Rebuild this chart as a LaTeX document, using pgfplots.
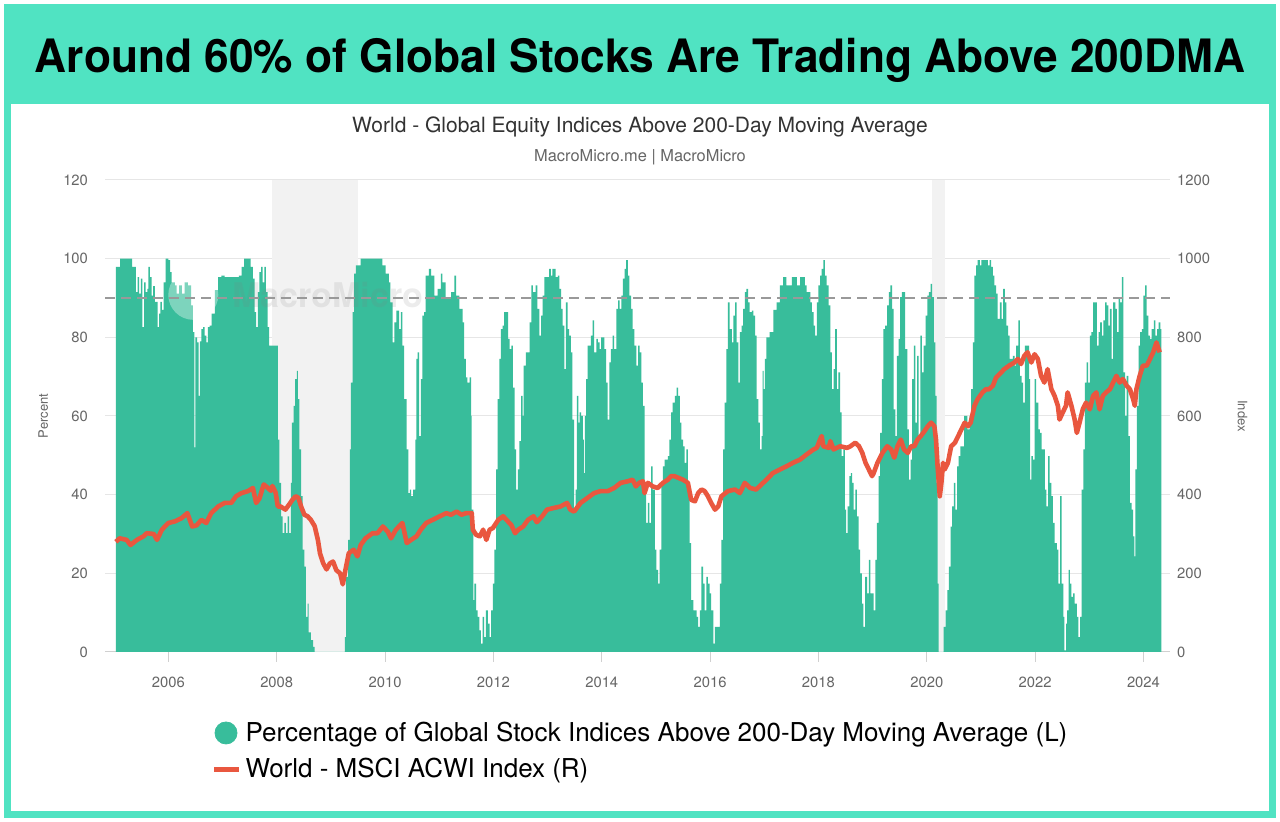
\documentclass[border=0pt]{standalone}
\usepackage{fontspec}
\setmainfont{TeX Gyre Heros}
\usepackage{graphicx}
\usepackage{pgfplots}
\usepackage{pgfplotstable}
\pgfplotsset{compat=1.18}

\definecolor{banner}{HTML}{50E3C2}
\definecolor{barteal}{HTML}{38BD9B}
\definecolor{acwired}{HTML}{E9573F}
\definecolor{recess}{HTML}{F2F2F2}
\definecolor{gridgray}{HTML}{E6E6E6}
\definecolor{axisgray}{HTML}{D0D0D0}
\definecolor{ticktext}{HTML}{666666}

% share of global indices above their 200DMA (%)
\pgfplotstableread{
year pct
2005.03 97.9
2005.11 100
2005.33 97.9
2005.40 91.5
2005.43 95.3
2005.46 91.1
2005.49 94.9
2005.52 82.6
2005.55 94.0
2005.58 91.5
2005.61 92.3
2005.63 97.9
2005.66 95.3
2005.69 90.6
2005.72 93.0
2005.75 89.0
2005.80 82.6
2005.83 86.0
2005.85 89.0
2005.88 87.0
2005.91 94.0
2005.95 100
2006.00 99.6
2006.03 96.6
2006.06 94.0
2006.12 93.2
2006.15 91.1
2006.20 93.2
2006.25 91.1
2006.30 94.0
2006.36 93.2
2006.42 88.1
2006.45 81.3
2006.48 52.0
2006.50 80.0
2006.53 78.7
2006.56 65.1
2006.58 79.0
2006.61 82.1
2006.64 82.6
2006.67 80.4
2006.70 78.7
2006.73 82.6
2006.76 83.0
2006.80 86.0
2006.86 92.0
2006.92 95.3
2006.98 95.7
2007.04 95.3
2007.10 95.3
2007.20 95.3
2007.30 95.7
2007.35 97.9
2007.40 100
2007.47 100
2007.52 97.9
2007.56 94.9
2007.59 86.4
2007.62 82.6
2007.65 91.5
2007.68 96.6
2007.71 97.9
2007.74 94.0
2007.77 97.9
2007.80 91.5
2007.83 82.6
2007.86 77.9
2007.95 77.9
2008.02 54.0
2008.05 43.0
2008.08 34.5
2008.11 30.2
2008.14 32.8
2008.17 30.2
2008.20 34.5
2008.23 30.2
2008.26 43.0
2008.28 58.3
2008.31 62.6
2008.34 69.4
2008.37 71.5
2008.39 64.3
2008.42 51.5
2008.45 39.6
2008.48 26.0
2008.51 21.7
2008.54 8.9
2008.57 12.3
2008.59 5.0
2008.63 3.0
2008.67 1.3
2008.70 0
2009.25 0
2009.26 3.8
2009.28 19.1
2009.32 28.5
2009.35 51.5
2009.37 68.5
2009.40 86.4
2009.43 96.2
2009.46 98.3
2009.55 100
2009.92 100
2009.95 98.3
2010.01 96.2
2010.07 94.0
2010.10 88.9
2010.14 78.7
2010.17 83.8
2010.21 86.8
2010.26 82.1
2010.29 86.4
2010.32 77.9
2010.35 64.3
2010.40 51.5
2010.43 40.4
2010.46 41.3
2010.48 39.6
2010.52 41.3
2010.56 54.0
2010.58 74.5
2010.60 76.2
2010.63 54.9
2010.66 69.4
2010.69 85.5
2010.72 86.4
2010.75 95.7
2010.81 97.4
2010.85 95.7
2010.91 90.6
2010.97 92.3
2011.03 96.2
2011.06 94.0
2011.12 89.8
2011.22 91.5
2011.28 95.7
2011.31 90.6
2011.37 87.2
2011.43 83.8
2011.46 74.5
2011.49 69.8
2011.52 68.5
2011.56 69.8
2011.59 60.0
2011.60 36.2
2011.63 13.2
2011.65 17.4
2011.68 10.6
2011.71 8.9
2011.74 5.5
2011.77 2.1
2011.80 8.9
2011.83 3.8
2011.86 10.6
2011.90 7.2
2011.93 3.8
2011.96 10.6
2011.99 17.4
2012.02 26.0
2012.05 46.4
2012.08 64.3
2012.11 74.5
2012.14 82.1
2012.17 83.0
2012.20 86.4
2012.25 86.4
2012.27 79.6
2012.30 77.0
2012.33 77.9
2012.36 67.2
2012.39 51.5
2012.42 41.3
2012.45 46.4
2012.48 53.6
2012.51 65.1
2012.54 60.0
2012.56 72.8
2012.60 76.2
2012.67 83.8
2012.70 93.2
2012.73 91.5
2012.78 93.2
2012.81 87.2
2012.85 80.4
2012.88 85.5
2012.91 90.6
2012.94 95.3
2013.03 97.4
2013.06 95.7
2013.09 97.4
2013.15 95.3
2013.19 95.7
2013.22 92.3
2013.25 87.2
2013.28 83.0
2013.31 71.9
2013.34 88.9
2013.37 82.1
2013.40 80.4
2013.43 76.2
2013.46 59.1
2013.49 36.2
2013.52 41.3
2013.54 65.1
2013.57 58.3
2013.59 60.9
2013.62 60.0
2013.65 54.0
2013.67 45.5
2013.69 60.0
2013.71 69.4
2013.74 77.9
2013.80 80.4
2013.83 84.3
2013.86 76.2
2013.90 79.6
2013.93 78.7
2013.96 77.0
2013.99 80.0
2014.05 77.0
2014.08 68.5
2014.11 59.1
2014.14 73.6
2014.17 77.0
2014.20 80.4
2014.23 77.0
2014.27 87.2
2014.30 89.4
2014.33 87.2
2014.36 90.6
2014.39 94.9
2014.42 97.4
2014.45 99.6
2014.48 95.7
2014.51 90.6
2014.54 87.2
2014.57 82.1
2014.60 77.9
2014.64 72.8
2014.67 77.9
2014.70 76.2
2014.73 68.5
2014.76 62.6
2014.79 43.0
2014.82 32.8
2014.85 37.9
2014.88 32.8
2014.91 47.2
2014.94 41.3
2014.98 26.0
2015.01 20.9
2015.04 17.4
2015.07 26.0
2015.10 43.0
2015.13 47.2
2015.16 48.9
2015.22 49.8
2015.25 54.0
2015.28 60.9
2015.31 63.4
2015.35 65.1
2015.38 67.2
2015.41 65.1
2015.44 58.3
2015.47 54.0
2015.50 52.3
2015.53 48.1
2015.56 51.5
2015.59 43.0
2015.62 27.7
2015.65 13.2
2015.69 10.6
2015.75 8.9
2015.78 6.4
2015.81 10.6
2015.84 21.7
2015.87 17.4
2015.90 10.6
2015.93 19.1
2015.96 17.4
2015.99 14.9
2016.02 10.6
2016.06 2.1
2016.09 6.4
2016.15 6.4
2016.18 17.4
2016.21 28.5
2016.24 51.5
2016.27 63.4
2016.30 77.0
2016.33 88.9
2016.36 82.1
2016.40 78.7
2016.43 85.5
2016.46 88.9
2016.49 78.7
2016.52 68.5
2016.55 81.3
2016.58 83.0
2016.61 87.2
2016.64 91.5
2016.67 92.3
2016.70 88.9
2016.73 86.4
2016.77 86.8
2016.80 85.5
2016.83 80.4
2016.86 64.3
2016.89 58.3
2016.92 51.5
2016.95 54.9
2016.97 71.5
2016.99 66.8
2017.01 74.5
2017.04 80.0
2017.10 81.3
2017.17 87.0
2017.23 88.9
2017.29 93.2
2017.35 95.3
2017.41 93.2
2017.51 95.3
2017.60 93.2
2017.66 95.3
2017.75 93.2
2017.78 91.5
2017.85 88.9
2017.88 86.4
2017.91 83.0
2017.94 80.4
2017.97 88.9
2018.00 93.2
2018.03 95.7
2018.06 97.4
2018.09 99.6
2018.12 95.7
2018.15 93.2
2018.19 88.1
2018.22 76.2
2018.25 66.8
2018.28 71.9
2018.31 82.1
2018.34 66.8
2018.37 71.1
2018.40 60.9
2018.43 49.8
2018.46 51.5
2018.49 36.2
2018.51 30.2
2018.54 37.0
2018.57 44.7
2018.60 45.5
2018.62 43.0
2018.65 36.2
2018.68 41.3
2018.71 34.5
2018.74 26.0
2018.77 20.0
2018.80 12.3
2018.83 6.4
2018.86 19.1
2018.90 14.9
2018.93 23.4
2018.96 14.9
2019.02 10.6
2019.05 23.4
2019.08 32.8
2019.11 44.7
2019.14 55.7
2019.17 69.4
2019.20 82.1
2019.23 83.0
2019.27 88.1
2019.30 91.5
2019.33 93.2
2019.36 87.2
2019.39 61.7
2019.42 54.9
2019.45 75.3
2019.48 79.6
2019.51 90.2
2019.54 91.5
2019.60 77.0
2019.64 56.6
2019.67 43.8
2019.70 48.9
2019.73 69.4
2019.76 77.9
2019.79 58.3
2019.82 75.3
2019.85 54.9
2019.88 80.4
2019.91 71.1
2019.94 77.9
2019.98 85.5
2020.01 90.6
2020.04 91.5
2020.07 93.6
2020.10 90.2
2020.13 78.7
2020.16 65.1
2020.18 43.0
2020.20 17.4
2020.22 0
2020.30 0
2020.31 6.4
2020.35 10.6
2020.38 15.7
2020.41 21.7
2020.44 31.9
2020.47 37.0
2020.50 43.0
2020.53 36.2
2020.56 47.2
2020.59 49.8
2020.62 52.3
2020.69 60.0
2020.75 56.6
2020.79 60.0
2020.82 66.8
2020.85 78.7
2020.88 95.7
2020.91 98.3
2020.94 99.6
2020.98 98.3
2021.01 99.6
2021.13 98.3
2021.16 99.6
2021.19 97.9
2021.22 95.7
2021.25 93.2
2021.28 91.1
2021.31 84.7
2021.35 88.9
2021.38 84.7
2021.41 92.3
2021.44 88.9
2021.47 83.0
2021.50 80.4
2021.53 74.5
2021.59 75.3
2021.62 72.8
2021.65 77.9
2021.69 84.3
2021.72 70.2
2021.75 68.5
2021.78 63.4
2021.81 77.9
2021.89 69.4
2021.91 43.8
2021.93 49.8
2021.96 48.9
2021.99 69.4
2022.02 63.4
2022.06 56.6
2022.09 55.7
2022.12 51.5
2022.18 41.3
2022.21 37.0
2022.24 49.8
2022.27 43.0
2022.30 39.6
2022.33 32.8
2022.36 27.7
2022.40 26.0
2022.43 17.4
2022.46 39.6
2022.49 17.4
2022.52 8.9
2022.54 0.4
2022.57 7.2
2022.59 10.6
2022.62 20.9
2022.64 17.4
2022.67 14.0
2022.70 14.9
2022.73 12.3
2022.77 8.9
2022.80 3.8
2022.83 8.9
2022.86 41.3
2022.89 51.5
2022.92 68.5
2022.95 73.6
2022.98 68.5
2023.01 80.4
2023.04 81.3
2023.07 88.9
2023.14 77.9
2023.17 81.3
2023.20 83.8
2023.23 80.4
2023.26 84.3
2023.29 88.9
2023.32 88.1
2023.35 83.0
2023.38 87.2
2023.41 74.5
2023.44 88.9
2023.48 87.2
2023.51 81.3
2023.54 89.8
2023.57 88.9
2023.60 95.3
2023.63 71.1
2023.66 60.0
2023.69 70.2
2023.72 54.9
2023.75 37.9
2023.78 36.2
2023.81 29.4
2023.83 24.3
2023.85 46.4
2023.88 62.6
2023.91 77.9
2023.94 81.3
2023.97 82.1
2024.00 90.6
2024.03 93.2
2024.06 85.5
2024.09 80.4
2024.12 79.6
2024.15 82.1
2024.19 84.3
2024.22 80.4
2024.25 82.1
2024.28 83.8
2024.31 82.1
2024.33 82.1
}\pcttable

% MSCI ACWI index level
\pgfplotstableread{
year acwi
2005.03 280
2005.10 289
2005.23 285
2005.30 272
2005.42 285
2005.54 294
2005.60 302
2005.73 300
2005.79 285
2005.88 311
2006.00 328
2006.12 332
2006.24 340
2006.35 353
2006.44 319
2006.52 322
2006.61 336
2006.70 328
2006.79 353
2006.92 370
2007.04 379
2007.16 379
2007.25 396
2007.35 404
2007.47 409
2007.56 417
2007.62 379
2007.68 390
2007.76 426
2007.83 418
2007.89 410
2007.92 422
2007.98 405
2008.02 370
2008.07 370
2008.16 362
2008.23 375
2008.29 387
2008.35 396
2008.40 392
2008.45 370
2008.51 349
2008.57 345
2008.63 336
2008.70 320
2008.76 285
2008.80 250
2008.86 225
2008.92 210
2008.98 225
2009.04 230
2009.10 208
2009.17 200
2009.22 172
2009.27 210
2009.33 251
2009.42 260
2009.49 243
2009.55 272
2009.64 289
2009.77 302
2009.86 302
2009.96 319
2010.05 306
2010.11 289
2010.20 311
2010.32 328
2010.40 277
2010.48 285
2010.58 294
2010.66 311
2010.76 328
2010.88 336
2011.01 345
2011.13 353
2011.22 349
2011.32 357
2011.41 349
2011.50 353
2011.60 353
2011.62 311
2011.68 298
2011.75 294
2011.81 311
2011.87 285
2011.93 311
2011.99 315
2012.09 336
2012.18 345
2012.24 336
2012.33 323
2012.40 302
2012.46 311
2012.55 319
2012.64 336
2012.74 345
2012.80 330
2012.90 345
2012.99 362
2013.11 366
2013.24 370
2013.36 379
2013.42 362
2013.49 357
2013.61 379
2013.73 391
2013.86 404
2013.98 409
2014.11 409
2014.23 417
2014.35 430
2014.48 434
2014.57 438
2014.63 421
2014.69 430
2014.76 434
2014.79 404
2014.85 430
2014.94 421
2015.03 417
2015.13 430
2015.22 438
2015.28 447
2015.34 447
2015.41 443
2015.50 438
2015.59 430
2015.65 387
2015.72 383
2015.78 404
2015.84 413
2015.90 409
2015.96 396
2016.02 379
2016.09 362
2016.15 370
2016.21 396
2016.33 409
2016.46 413
2016.55 404
2016.64 430
2016.74 417
2016.85 413
2016.91 421
2017.04 438
2017.16 455
2017.29 464
2017.41 472
2017.53 481
2017.66 489
2017.78 502
2017.91 515
2017.97 519
2018.03 540
2018.06 549
2018.09 523
2018.19 519
2018.22 536
2018.28 515
2018.40 523
2018.53 519
2018.59 523
2018.68 532
2018.75 523
2018.81 506
2018.87 481
2018.93 464
2018.99 447
2019.02 455
2019.09 481
2019.18 506
2019.27 523
2019.34 515
2019.40 494
2019.46 523
2019.52 540
2019.58 515
2019.65 506
2019.71 523
2019.77 523
2019.83 540
2019.89 549
2019.96 562
2020.02 574
2020.08 583
2020.14 574
2020.17 540
2020.20 472
2020.24 396
2020.27 430
2020.30 481
2020.33 464
2020.39 481
2020.45 523
2020.52 532
2020.58 549
2020.64 566
2020.70 583
2020.76 574
2020.81 583
2020.88 626
2020.94 643
2021.03 660
2021.09 668
2021.15 668
2021.22 677
2021.28 698
2021.34 706
2021.43 719
2021.52 728
2021.62 736
2021.68 745
2021.74 732
2021.80 753
2021.86 762
2021.93 736
2021.99 757
2022.05 745
2022.11 702
2022.17 685
2022.23 719
2022.30 668
2022.36 651
2022.42 626
2022.45 591
2022.51 609
2022.57 626
2022.60 660
2022.67 626
2022.73 591
2022.77 557
2022.82 583
2022.88 617
2022.94 634
2023.01 617
2023.07 651
2023.13 660
2023.19 617
2023.25 651
2023.31 660
2023.38 668
2023.44 685
2023.50 702
2023.56 685
2023.62 694
2023.69 677
2023.75 668
2023.81 643
2023.84 626
2023.87 668
2023.93 702
2023.99 728
2024.06 728
2024.12 745
2024.18 762
2024.24 787
2024.30 762
}\acwitable

\pgfplotsset{
  every axis/.append style={
    /pgf/number format/assume math mode=true,
    /pgf/number format/1000 sep={},
    tick label style={font=\fontsize{7.4}{8}\selectfont, text=ticktext},
    label style={font=\fontsize{6.5}{8}\selectfont, text=ticktext},
  },
}

\begin{document}
\begin{tikzpicture}
\useasboundingbox (0,0) rectangle (640pt,411pt);
\fill[white] (0,0) rectangle (640pt,411pt);
\fill[banner] (2pt,2pt) rectangle (638pt,409pt);
\fill[white] (5.5pt,5.5pt) rectangle (634.5pt,359pt);
\node at (320pt,381pt) {\resizebox{605pt}{\height}{\fontsize{23}{23}\selectfont\bfseries Around 60\% of Global Stocks Are Trading Above 200DMA}};
\node[font=\fontsize{10.5}{12}\selectfont, text=black!80] at (320pt,347.5pt) {World - Global Equity Indices Above 200-Day Moving Average};
\node[font=\fontsize{8.2}{9}\selectfont, text=ticktext] at (320pt,332.5pt) {MacroMicro.me | MacroMicro};

\begin{axis}[
  at={(52.5pt,85pt)}, anchor=south west,
  scale only axis, width=532.5pt, height=236pt,
  xmin=2004.83, xmax=2024.49, ymin=0, ymax=120,
  axis x line*=bottom, axis y line*=left,
  y axis line style={draw=none},
  x axis line style={draw=axisgray, line width=0.5pt},
  ytick={0,20,...,120},
  xtick={2006,2008,...,2024},
  xticklabel style={yshift=-4pt},
  ytick style={draw=none},
  xtick style={draw=axisgray, line width=0.5pt},
  tick align=outside, major tick length=5pt,
  ymajorgrids, grid style={draw=gridgray, line width=0.5pt},
  ylabel={Percent},
  ylabel style={at={(axis description cs:-0.058,0.5)}, anchor=center},
]
\fill[recess] (axis cs:2007.92,0) rectangle (axis cs:2009.50,120);
\fill[recess] (axis cs:2020.10,0) rectangle (axis cs:2020.33,120);
\addplot[fill=barteal, draw=none, const plot] table[x=year, y=pct] {\pcttable} \closedcycle;
\fill[white, opacity=0.35] (axis cs:2006.46,90.8) circle (12.5pt);
\node[anchor=west, text=gray, opacity=0.15, font=\fontsize{17}{17}\selectfont\bfseries] at (axis cs:2007.05,90.8) {MacroMicro};
\addplot[draw=gray!80, line width=1pt, dash pattern=on 5pt off 3pt] coordinates {(2004.83,90) (2024.49,90)};
\end{axis}

\begin{axis}[
  at={(52.5pt,85pt)}, anchor=south west,
  scale only axis, width=532.5pt, height=236pt,
  xmin=2004.83, xmax=2024.49, ymin=0, ymax=1200,
  axis x line=none, axis y line*=right,
  y axis line style={draw=none},
  ytick={0,200,...,1200}, ytick style={draw=none},
  ylabel={Index},
  ylabel style={at={(axis description cs:1.068,0.5)}, anchor=center, rotate=180},
  legend style={at={(axis description cs:0.094,-0.13)}, anchor=north west,
    draw=none, fill=none, font=\fontsize{13}{15}\selectfont, row sep=3pt,
    legend cell align=left},
]
\addlegendimage{legend image code/.code={\fill[barteal] (7pt,0pt) circle (5.5pt);}}
\addlegendentry{Percentage of Global Stock Indices Above 200-Day Moving Average (L)}
\addplot[acwired, line width=2.3pt, line join=round,
  legend image code/.code={\draw[acwired, line width=2.5pt] (1pt,0pt) -- (13.5pt,0pt);}]
  table[x=year, y=acwi] {\acwitable};
\addlegendentry{World - MSCI ACWI Index (R)}
\end{axis}
\end{tikzpicture}
\end{document}
